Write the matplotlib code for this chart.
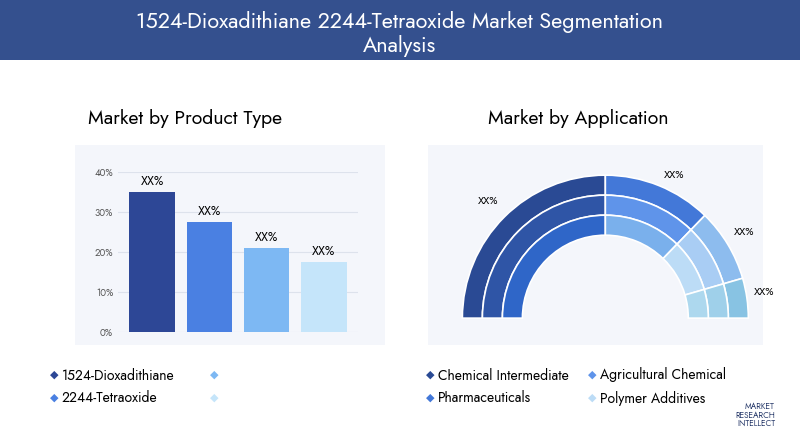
import matplotlib.pyplot as plt
from matplotlib.patches import Rectangle

plt.rcParams['font.family'] = ['Jost', 'Lato', 'DejaVu Sans']

product_types = ['1524-Dioxadithiane', '2244-Tetraoxide', '', '']
product_share = [35, 27.5, 21, 17.5]
product_labels = ['XX%', 'XX%', 'XX%', 'XX%']
bar_colors = ['#2d4796', '#4a80e2', '#7db8f3', '#c5e5fa']
y_ticks = [0, 10, 20, 30, 40]

applications = ['Chemical Intermediate', 'Agricultural Chemical', 'Pharmaceuticals', 'Polymer Additives']
app_share = [50, 24.5, 16.5, 9]
app_labels = ['XX%', 'XX%', 'XX%', 'XX%']
legend_colors = ['#2a4a94', '#5f94ea', '#4378d8', '#bcdcf6']
# ring colours outer -> inner, one list per application
ring_colors = [
    ['#2a4a94', '#4378d8', '#8dbcee', '#88c3e3'],
    ['#2f55a6', '#5f94ea', '#a9cdf4', '#9fd0ea'],
    ['#2f66c8', '#7ab0ec', '#bcdcf6', '#add8ee'],
]

W, H = 800, 448
fig = plt.figure(figsize=(W / 100, H / 100), dpi=100)
fig.patch.set_facecolor('white')

def box(x, y, w, h):
    return [x / W, 1 - (y + h) / H, w / W, h / H]

# header band
fig.patches.append(Rectangle((0, 1 - 60 / H), 1, 60 / H, transform=fig.transFigure,
                             facecolor='#34508e', edgecolor='none'))
fig.text(0.5, 1 - 22 / H, '1524-Dioxadithiane 2244-Tetraoxide Market Segmentation', ha='center',
         va='center', color='white', fontsize=15.5)
fig.text(0.5, 1 - 46 / H, 'Analysis', ha='center', va='center', color='white', fontsize=15.5)

fig.text(185 / W, 1 - 118 / H, 'Market by Product Type', ha='center', va='center', fontsize=14)
fig.text(578 / W, 1 - 118 / H, 'Market by Application', ha='center', va='center', fontsize=14)

# panel backgrounds
for (x, y, w, h) in [(75, 145, 310, 200), (428, 145, 335, 200)]:
    fig.patches.append(Rectangle((x / W, 1 - (y + h) / H), w / W, h / H, transform=fig.transFigure,
                                 facecolor='#f4f6fb', edgecolor='none', zorder=0))

# bar chart
ax = fig.add_axes(box(118, 172, 240, 160), zorder=3)
ax.set_facecolor('none')
x = range(len(product_share))
ax.bar(x, product_share, width=0.8, color=bar_colors)
for xi, v, lab in zip(x, product_share, product_labels):
    ax.text(xi, v + 1, lab, ha='center', va='bottom', fontsize=9)
ax.set_ylim(0, 40)
ax.set_xlim(-0.6, 3.6)
ax.set_yticks(y_ticks)
ax.set_yticklabels([f'{t}%' for t in y_ticks], fontsize=7, color='#555555')
ax.set_xticks([])
ax.grid(axis='y', color='#dde2ec', linewidth=0.8)
ax.set_axisbelow(True)
for s in ax.spines.values():
    s.set_visible(False)
ax.tick_params(axis='y', length=0)

# semi donut
ax2 = fig.add_axes(box(455, 158, 315, 163), zorder=3)
ax2.set_aspect('equal')
total = sum(app_share)
radii = [1.0, 0.86, 0.72]
for r, cols in zip(radii, ring_colors):
    wedges, _ = ax2.pie(app_share + [total], radius=r, startangle=180, counterclock=False,
                        colors=cols + ['none'],
                        wedgeprops=dict(width=0.14, edgecolor='white', linewidth=1.2))
    wedges[-1].set_visible(False)
ax2.set_xlim(-1.05, 1.15)
ax2.set_ylim(-0.02, 1.12)
label_pos = [(-0.82, 0.82), (0.48, 1.0), (0.97, 0.6), (1.11, 0.18)]
for lab, (lx, ly) in zip(app_labels, label_pos):
    ax2.text(lx, ly, lab, ha='center', va='center', fontsize=8)

# legends
def legend(items, colors, positions):
    for it, c, (px, py) in zip(items, colors, positions):
        fig.text(px / W, 1 - py / H, '\u25c6', color=c, fontsize=8, ha='left', va='center',
                 family='DejaVu Sans')
        if it:
            fig.text((px + 12) / W, 1 - py / H, it, fontsize=10, ha='left', va='center')

legend(product_types, bar_colors, [(50, 375), (50, 398), (210, 375), (210, 398)])
legend(applications, legend_colors, [(426, 375), (588, 375), (426, 398), (588, 398)])

fig.text(775 / W, 1 - 415 / H, 'MARKET\nRESEARCH\nINTELLECT', fontsize=6, color='#2d3f6e',
         ha='right', va='center', fontweight='bold', linespacing=0.9)

fig.savefig('out.png', dpi=100)
